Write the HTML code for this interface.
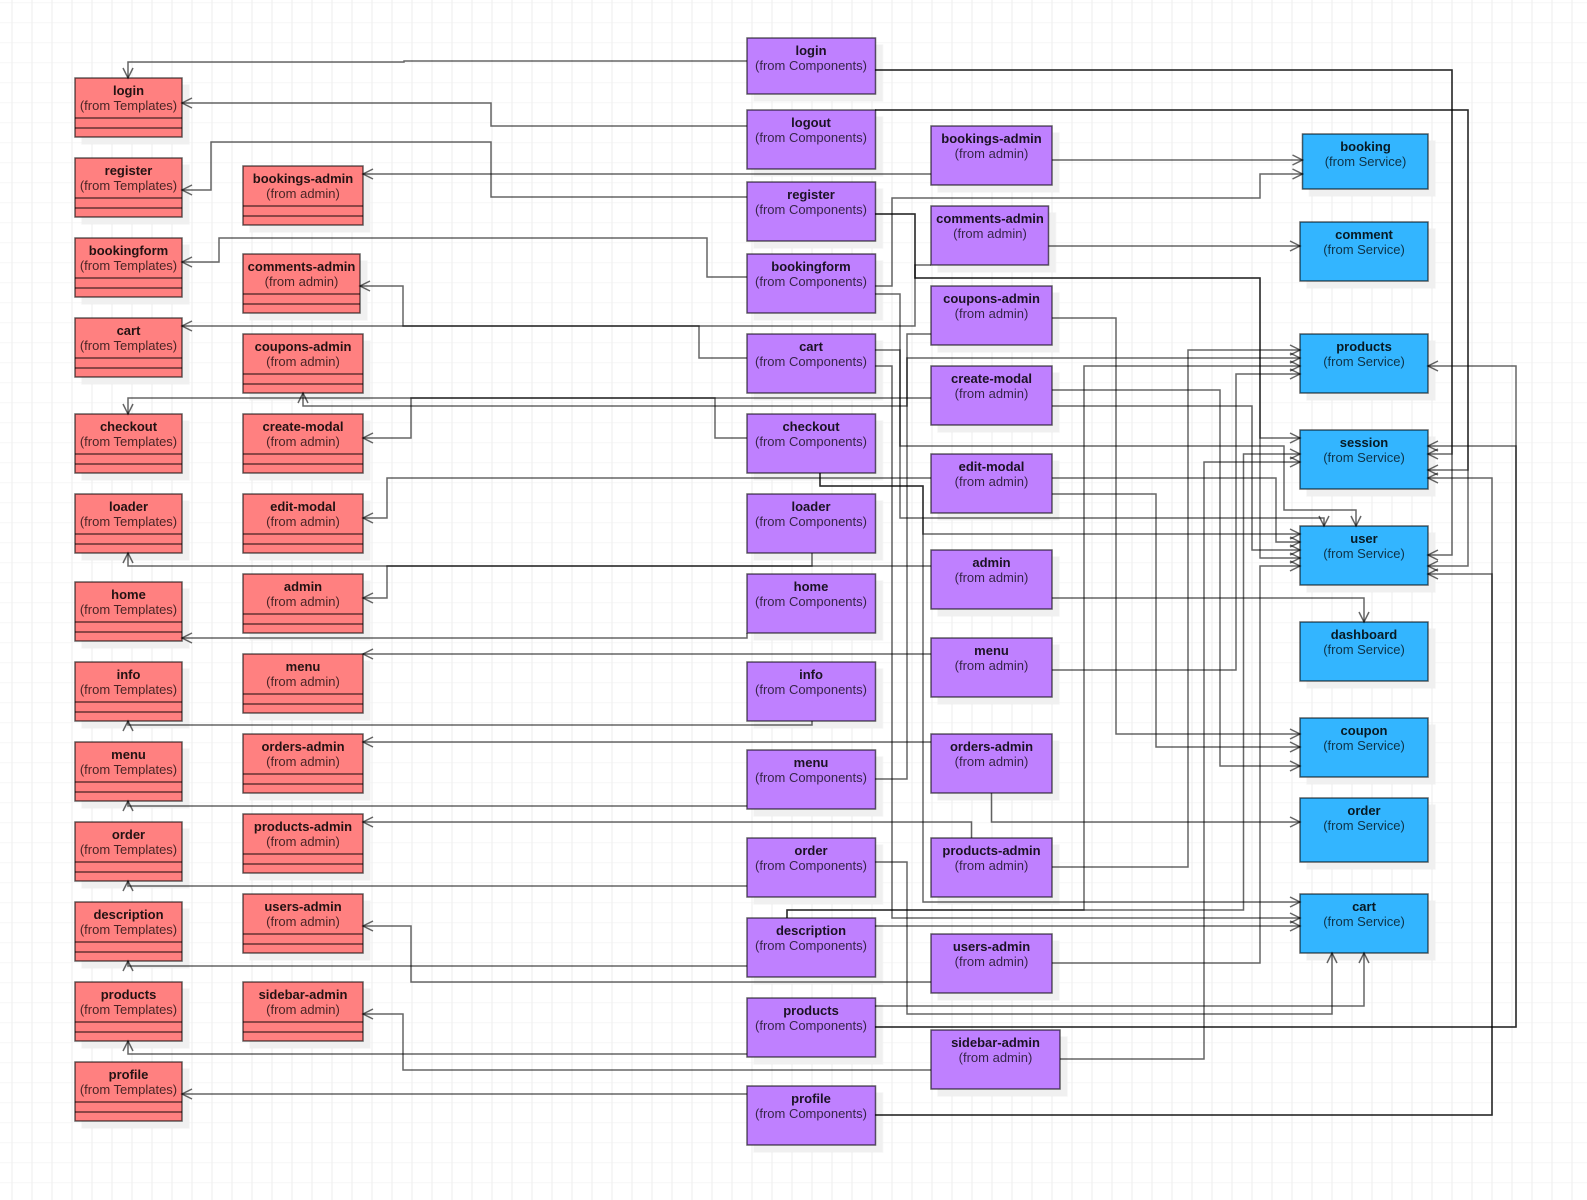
<!DOCTYPE html>
<html>
<head>
<meta charset="utf-8">
<style>
html,body{margin:0;padding:0;background:#fff;width:1587px;height:1200px;overflow:hidden}
svg{display:block}
text{font-family:"Liberation Sans",Arial,sans-serif;font-size:13px;text-anchor:middle;fill:#000;fill-opacity:.72}
text.n{font-weight:bold;fill-opacity:.86}
.b rect,.b line{stroke:#000;stroke-opacity:.6;stroke-width:1.5}
.b rect{filter:drop-shadow(7px 7px 0 #f0f0f0)}
.r rect{fill:#ff8080}
.p rect{fill:#bf80ff}
.c rect{fill:#33b5ff}
.e polyline{fill:none;stroke:#000;stroke-opacity:.6;stroke-width:1.5;marker-end:url(#a)}
</style>
</head>
<body>
<svg width="1587" height="1200" viewBox="0 0 1587 1200" xmlns="http://www.w3.org/2000/svg">
<defs>
<pattern id="g" x="2" y="2.5" width="20" height="20" patternUnits="userSpaceOnUse">
<path d="M10 0V20M0 0H20" stroke="#f0f0f0" stroke-width="1.3" fill="none"/>
</pattern>
<marker id="a" markerUnits="userSpaceOnUse" viewBox="-1 -1 12 12" refX="10" refY="5" markerWidth="12" markerHeight="12" orient="auto" overflow="visible">
<path d="M0 0L10 5L0 10" fill="none" stroke="#000" stroke-opacity=".6" stroke-width="1.5"/>
</marker>
</defs>
<rect width="1587" height="1200" fill="#fff"/>
<rect width="1587" height="1200" fill="url(#g)"/>

<!-- Templates -->
<g class="b r">
<rect x="75" y="78" width="107" height="59"/><line x1="75" x2="182" y1="118" y2="118"/><line x1="75" x2="182" y1="128" y2="128"/><text class="n" x="128.5" y="95">login</text><text x="128.5" y="110">(from Templates)</text>
<rect x="75" y="158" width="107" height="59"/><line x1="75" x2="182" y1="198" y2="198"/><line x1="75" x2="182" y1="208" y2="208"/><text class="n" x="128.5" y="175">register</text><text x="128.5" y="190">(from Templates)</text>
<rect x="75" y="238" width="107" height="59"/><line x1="75" x2="182" y1="278" y2="278"/><line x1="75" x2="182" y1="288" y2="288"/><text class="n" x="128.5" y="255">bookingform</text><text x="128.5" y="270">(from Templates)</text>
<rect x="75" y="318" width="107" height="59"/><line x1="75" x2="182" y1="358" y2="358"/><line x1="75" x2="182" y1="368" y2="368"/><text class="n" x="128.5" y="335">cart</text><text x="128.5" y="350">(from Templates)</text>
<rect x="75" y="414" width="107" height="59"/><line x1="75" x2="182" y1="454" y2="454"/><line x1="75" x2="182" y1="464" y2="464"/><text class="n" x="128.5" y="431">checkout</text><text x="128.5" y="446">(from Templates)</text>
<rect x="75" y="494" width="107" height="59"/><line x1="75" x2="182" y1="534" y2="534"/><line x1="75" x2="182" y1="544" y2="544"/><text class="n" x="128.5" y="511">loader</text><text x="128.5" y="526">(from Templates)</text>
<rect x="75" y="582" width="107" height="59"/><line x1="75" x2="182" y1="622" y2="622"/><line x1="75" x2="182" y1="632" y2="632"/><text class="n" x="128.5" y="599">home</text><text x="128.5" y="614">(from Templates)</text>
<rect x="75" y="662" width="107" height="59"/><line x1="75" x2="182" y1="702" y2="702"/><line x1="75" x2="182" y1="712" y2="712"/><text class="n" x="128.5" y="679">info</text><text x="128.5" y="694">(from Templates)</text>
<rect x="75" y="742" width="107" height="59"/><line x1="75" x2="182" y1="782" y2="782"/><line x1="75" x2="182" y1="792" y2="792"/><text class="n" x="128.5" y="759">menu</text><text x="128.5" y="774">(from Templates)</text>
<rect x="75" y="822" width="107" height="59"/><line x1="75" x2="182" y1="862" y2="862"/><line x1="75" x2="182" y1="872" y2="872"/><text class="n" x="128.5" y="839">order</text><text x="128.5" y="854">(from Templates)</text>
<rect x="75" y="902" width="107" height="59"/><line x1="75" x2="182" y1="942" y2="942"/><line x1="75" x2="182" y1="952" y2="952"/><text class="n" x="128.5" y="919">description</text><text x="128.5" y="934">(from Templates)</text>
<rect x="75" y="982" width="107" height="59"/><line x1="75" x2="182" y1="1022" y2="1022"/><line x1="75" x2="182" y1="1032" y2="1032"/><text class="n" x="128.5" y="999">products</text><text x="128.5" y="1014">(from Templates)</text>
<rect x="75" y="1062" width="107" height="59"/><line x1="75" x2="182" y1="1102" y2="1102"/><line x1="75" x2="182" y1="1112" y2="1112"/><text class="n" x="128.5" y="1079">profile</text><text x="128.5" y="1094">(from Templates)</text>
</g>

<!-- Red admin -->
<g class="b r">
<rect x="243" y="166" width="120" height="59"/><line x1="243" x2="363" y1="206" y2="206"/><line x1="243" x2="363" y1="216" y2="216"/><text class="n" x="303" y="183">bookings-admin</text><text x="303" y="198">(from admin)</text>
<rect x="243" y="254" width="117" height="59"/><line x1="243" x2="360" y1="294" y2="294"/><line x1="243" x2="360" y1="304" y2="304"/><text class="n" x="301.5" y="271">comments-admin</text><text x="301.5" y="286">(from admin)</text>
<rect x="243" y="334" width="120" height="59"/><line x1="243" x2="363" y1="374" y2="374"/><line x1="243" x2="363" y1="384" y2="384"/><text class="n" x="303" y="351">coupons-admin</text><text x="303" y="366">(from admin)</text>
<rect x="243" y="414" width="120" height="59"/><line x1="243" x2="363" y1="454" y2="454"/><line x1="243" x2="363" y1="464" y2="464"/><text class="n" x="303" y="431">create-modal</text><text x="303" y="446">(from admin)</text>
<rect x="243" y="494" width="120" height="59"/><line x1="243" x2="363" y1="534" y2="534"/><line x1="243" x2="363" y1="544" y2="544"/><text class="n" x="303" y="511">edit-modal</text><text x="303" y="526">(from admin)</text>
<rect x="243" y="574" width="120" height="59"/><line x1="243" x2="363" y1="614" y2="614"/><line x1="243" x2="363" y1="624" y2="624"/><text class="n" x="303" y="591">admin</text><text x="303" y="606">(from admin)</text>
<rect x="243" y="654" width="120" height="59"/><line x1="243" x2="363" y1="694" y2="694"/><line x1="243" x2="363" y1="704" y2="704"/><text class="n" x="303" y="671">menu</text><text x="303" y="686">(from admin)</text>
<rect x="243" y="734" width="120" height="59"/><line x1="243" x2="363" y1="774" y2="774"/><line x1="243" x2="363" y1="784" y2="784"/><text class="n" x="303" y="751">orders-admin</text><text x="303" y="766">(from admin)</text>
<rect x="243" y="814" width="120" height="59"/><line x1="243" x2="363" y1="854" y2="854"/><line x1="243" x2="363" y1="864" y2="864"/><text class="n" x="303" y="831">products-admin</text><text x="303" y="846">(from admin)</text>
<rect x="243" y="894" width="120" height="59"/><line x1="243" x2="363" y1="934" y2="934"/><line x1="243" x2="363" y1="944" y2="944"/><text class="n" x="303" y="911">users-admin</text><text x="303" y="926">(from admin)</text>
<rect x="243" y="982" width="120" height="59"/><line x1="243" x2="363" y1="1022" y2="1022"/><line x1="243" x2="363" y1="1032" y2="1032"/><text class="n" x="303" y="999">sidebar-admin</text><text x="303" y="1014">(from admin)</text>
</g>

<!-- Components -->
<g class="b p">
<rect x="747" y="38" width="128.5" height="56"/><text class="n" x="811" y="55">login</text><text x="811" y="70">(from Components)</text>
<rect x="747" y="110" width="128.5" height="59"/><text class="n" x="811" y="127">logout</text><text x="811" y="142">(from Components)</text>
<rect x="747" y="182" width="128.5" height="59"/><text class="n" x="811" y="199">register</text><text x="811" y="214">(from Components)</text>
<rect x="747" y="254" width="128.5" height="59"/><text class="n" x="811" y="271">bookingform</text><text x="811" y="286">(from Components)</text>
<rect x="747" y="334" width="128.5" height="59"/><text class="n" x="811" y="351">cart</text><text x="811" y="366">(from Components)</text>
<rect x="747" y="414" width="128.5" height="59"/><text class="n" x="811" y="431">checkout</text><text x="811" y="446">(from Components)</text>
<rect x="747" y="494" width="128.5" height="59"/><text class="n" x="811" y="511">loader</text><text x="811" y="526">(from Components)</text>
<rect x="747" y="574" width="128.5" height="59"/><text class="n" x="811" y="591">home</text><text x="811" y="606">(from Components)</text>
<rect x="747" y="662" width="128.5" height="59"/><text class="n" x="811" y="679">info</text><text x="811" y="694">(from Components)</text>
<rect x="747" y="750" width="128.5" height="59"/><text class="n" x="811" y="767">menu</text><text x="811" y="782">(from Components)</text>
<rect x="747" y="838" width="128.5" height="59"/><text class="n" x="811" y="855">order</text><text x="811" y="870">(from Components)</text>
<rect x="747" y="918" width="128.5" height="59"/><text class="n" x="811" y="935">description</text><text x="811" y="950">(from Components)</text>
<rect x="747" y="998" width="128.5" height="59"/><text class="n" x="811" y="1015">products</text><text x="811" y="1030">(from Components)</text>
<rect x="747" y="1086" width="128.5" height="59"/><text class="n" x="811" y="1103">profile</text><text x="811" y="1118">(from Components)</text>
</g>

<!-- Purple admin -->
<g class="b p">
<rect x="931" y="126" width="121" height="59"/><text class="n" x="991.5" y="143">bookings-admin</text><text x="991.5" y="158">(from admin)</text>
<rect x="931" y="206" width="117.5" height="59"/><text class="n" x="990" y="223">comments-admin</text><text x="990" y="238">(from admin)</text>
<rect x="931" y="286" width="121" height="59"/><text class="n" x="991.5" y="303">coupons-admin</text><text x="991.5" y="318">(from admin)</text>
<rect x="931" y="366" width="121" height="59"/><text class="n" x="991.5" y="383">create-modal</text><text x="991.5" y="398">(from admin)</text>
<rect x="931" y="454" width="121" height="59"/><text class="n" x="991.5" y="471">edit-modal</text><text x="991.5" y="486">(from admin)</text>
<rect x="931" y="550" width="121" height="59"/><text class="n" x="991.5" y="567">admin</text><text x="991.5" y="582">(from admin)</text>
<rect x="931" y="638" width="121" height="59"/><text class="n" x="991.5" y="655">menu</text><text x="991.5" y="670">(from admin)</text>
<rect x="931" y="734" width="121" height="59"/><text class="n" x="991.5" y="751">orders-admin</text><text x="991.5" y="766">(from admin)</text>
<rect x="931" y="838" width="121" height="59"/><text class="n" x="991.5" y="855">products-admin</text><text x="991.5" y="870">(from admin)</text>
<rect x="931" y="934" width="121" height="59"/><text class="n" x="991.5" y="951">users-admin</text><text x="991.5" y="966">(from admin)</text>
<rect x="931" y="1030" width="129" height="59"/><text class="n" x="995.5" y="1047">sidebar-admin</text><text x="995.5" y="1062">(from admin)</text>
</g>

<!-- Service -->
<g class="b c">
<rect x="1302.5" y="134" width="125.5" height="55"/><text class="n" x="1365.5" y="151">booking</text><text x="1365.5" y="166">(from Service)</text>
<rect x="1300" y="222" width="128" height="59"/><text class="n" x="1364" y="239">comment</text><text x="1364" y="254">(from Service)</text>
<rect x="1300" y="334" width="128" height="59"/><text class="n" x="1364" y="351">products</text><text x="1364" y="366">(from Service)</text>
<rect x="1300" y="430" width="128" height="59"/><text class="n" x="1364" y="447">session</text><text x="1364" y="462">(from Service)</text>
<rect x="1300" y="526" width="128" height="59"/><text class="n" x="1364" y="543">user</text><text x="1364" y="558">(from Service)</text>
<rect x="1300" y="622" width="128" height="59"/><text class="n" x="1364" y="639">dashboard</text><text x="1364" y="654">(from Service)</text>
<rect x="1300" y="718" width="128" height="59"/><text class="n" x="1364" y="735">coupon</text><text x="1364" y="750">(from Service)</text>
<rect x="1300" y="798" width="128" height="64"/><text class="n" x="1364" y="815">order</text><text x="1364" y="830">(from Service)</text>
<rect x="1300" y="894" width="128" height="59"/><text class="n" x="1364" y="911">cart</text><text x="1364" y="926">(from Service)</text>
</g>

<g class="e">
<!-- Components to Templates -->
<polyline points="747,61 404,61 404,62 128,62 128,78"/>
<polyline points="747,126 491,126 491,103 182,103"/>
<polyline points="747,197 491,197 491,142 211,142 211,190 182,190"/>
<polyline points="747,277 707,277 707,238 219,238 219,262 182,262"/>
<polyline points="747,358 699,358 699,326 182,326"/>
<polyline points="747,438 715,438 715,398 128,398 128,414"/>
<polyline points="812,553 812,566 128,566 128,553"/>
<polyline points="747,633 747,638 182,638"/>
<polyline points="812,721 812,725 128,725 128,721"/>
<polyline points="747,806 128,806 128,801"/>
<polyline points="747,886 128,886 128,881"/>
<polyline points="747,966 128,966 128,961"/>
<polyline points="747,1054 128,1054 128,1041"/>
<polyline points="747,1094 182,1094"/>
<!-- admin purple to admin red -->
<polyline points="931,174 363,174"/>
<polyline points="931,265 915,265 915,326 403,326 403,286 360,286"/>
<polyline points="931,334 907,334 907,406 303,406 303,393"/>
<polyline points="931,398 411,398 411,438 363,438"/>
<polyline points="931,478 387,478 387,518 363,518"/>
<polyline points="931,566 387,566 387,598 363,598"/>
<polyline points="931,654 363,654"/>
<polyline points="931,742 363,742"/>
<polyline points="971.5,838 971.5,822 363,822"/>
<polyline points="931,982 411,982 411,926 363,926"/>
<polyline points="931,1070 403,1070 403,1014 363,1014"/>
<!-- Components to Service -->
<polyline points="875,70 1452,70 1452,454 1428,454"/>
<polyline points="875,70 1452,70 1452,555 1428,555"/>
<polyline points="875,110 1468,110 1468,470 1428,470"/>
<polyline points="875,110 1468,110 1468,566 1428,566"/>
<polyline points="875,214 915,214 915,278 1260,278 1260,438 1300,438"/>
<polyline points="875,214 915,214 915,278 1260,278 1260,558 1300,558"/>
<polyline points="875,286 892,286 892,198 1260,198 1260,174 1302.5,174"/>
<polyline points="875,294 900,294 900,518 1324,518 1324,526"/>
<polyline points="875,350 900,350 900,446 1284,446 1284,510 1356,510 1356,526"/>
<polyline points="875,366 892,366 892,918 1300,918"/>
<polyline points="820,473 820,486 923,486 923,534 1300,534"/>
<polyline points="820,473 820,486 923,486 923,902 1300,902"/>
<polyline points="875,779 907,779 907,358 1300,358"/>
<polyline points="875,862 907,862 907,1014 1332,1014 1332,953"/>
<polyline points="787,918 787,910 1084,910 1084,366 1300,366"/>
<polyline points="787,918 787,910 1243.5,910 1243.5,454 1300,454"/>
<polyline points="875,926 1300,926"/>
<polyline points="875,1006 1364,1006 1364,953"/>
<polyline points="875,1027 1516,1027 1516,366 1428,366"/>
<polyline points="875,1027 1516,1027 1516,446 1428,446"/>
<polyline points="875,1115 1492,1115 1492,478 1428,478"/>
<polyline points="875,1115 1492,1115 1492,574 1428,574"/>
<!-- admin purple to Service -->
<polyline points="1052,160 1302.5,160"/>
<polyline points="1048.5,246 1300,246"/>
<polyline points="1052,318 1116,318 1116,734 1300,734"/>
<polyline points="1052,390 1220,390 1220,766 1300,766"/>
<polyline points="1052,406 1252,406 1252,550 1300,550"/>
<polyline points="1052,478 1276,478 1276,542 1300,542"/>
<polyline points="1052,494 1156,494 1156,747 1300,747"/>
<polyline points="1052,598 1364,598 1364,622"/>
<polyline points="1052,670 1236,670 1236,374 1300,374"/>
<polyline points="991.5,793 991.5,822 1300,822"/>
<polyline points="1052,867 1188,867 1188,350 1300,350"/>
<polyline points="1052,963 1260,963 1260,566 1300,566"/>
<polyline points="1060,1059 1204,1059 1204,462 1300,462"/>
</g>
</svg>
</body>
</html>
